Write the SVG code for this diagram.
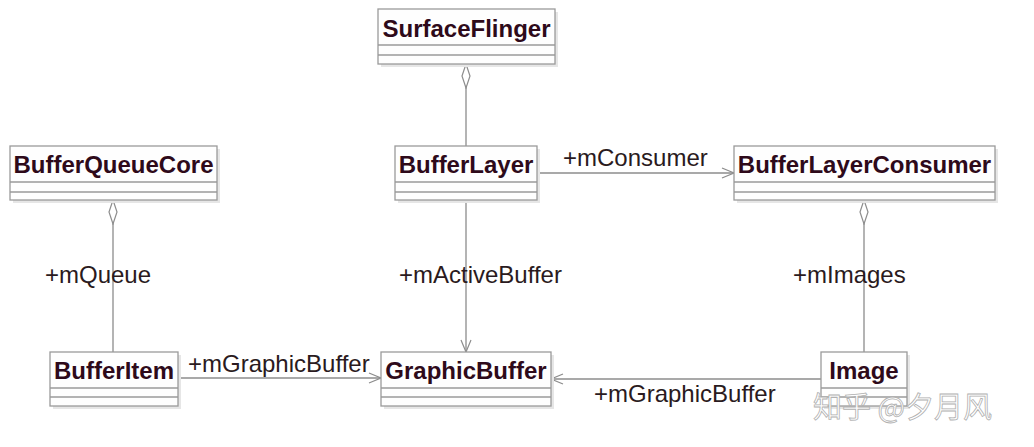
<svg xmlns="http://www.w3.org/2000/svg" width="1034" height="447" viewBox="0 0 1034 447">
<defs>
<style>
.box{fill:#fefefe;stroke:#9a9a9a;stroke-width:1.3}
.sh{fill:#e6e6e6}
.div{stroke:#9a9a9a;stroke-width:1.3}
.name{font-family:"Liberation Sans",Arial,sans-serif;font-weight:bold;font-size:24px;fill:#2e0a1a;text-anchor:middle}
.lbl{font-family:"Liberation Sans",Arial,sans-serif;font-size:24px;fill:#2a1a20}
.ln{stroke:#8c8c8c;stroke-width:1.3;fill:none}
.wm{font-family:"Noto Sans CJK SC",sans-serif;font-size:29px;fill:#ffffff;stroke:#b0b0b0;stroke-width:0.8}
</style>
<marker id="arr" viewBox="0 0 14 12" refX="13" refY="6" markerWidth="14" markerHeight="12" markerUnits="userSpaceOnUse" orient="auto">
<path d="M1,1 L13,6 L1,11" fill="none" stroke="#8c8c8c" stroke-width="1.2"/>
</marker>
<marker id="dia" viewBox="0 0 26 10" refX="1" refY="5" markerWidth="26" markerHeight="10" markerUnits="userSpaceOnUse" orient="auto">
<path d="M1,5 L13,1 L25,5 L13,9 Z" fill="#ffffff" stroke="#8c8c8c" stroke-width="1.2"/>
</marker>
</defs>
<rect width="1034" height="447" fill="#ffffff"/>

<g id="connectors">
<line class="ln" x1="466" y1="64" x2="466" y2="146" marker-start="url(#dia)"/>
<line class="ln" x1="113" y1="200" x2="113" y2="352" marker-start="url(#dia)"/>
<line class="ln" x1="864" y1="200" x2="864" y2="352" marker-start="url(#dia)"/>
<line class="ln" x1="537" y1="173" x2="734" y2="173" marker-end="url(#arr)"/>
<line class="ln" x1="466" y1="200" x2="466" y2="352" marker-end="url(#arr)"/>
<line class="ln" x1="178" y1="378" x2="381" y2="378" marker-end="url(#arr)"/>
<line class="ln" x1="821" y1="379" x2="551" y2="379" marker-end="url(#arr)"/>
<text class="lbl" x="563" y="166">+mConsumer</text>
<text class="lbl" x="399" y="283">+mActiveBuffer</text>
<text class="lbl" x="45" y="283">+mQueue</text>
<text class="lbl" x="793" y="283">+mImages</text>
<text class="lbl" x="188" y="372">+mGraphicBuffer</text>
<text class="lbl" x="594" y="402">+mGraphicBuffer</text>
</g>

<g id="SurfaceFlinger">
<rect class="sh" x="381" y="12" width="177" height="55"/>
<rect class="box" x="378" y="9" width="177" height="55"/>
<line class="div" x1="378" y1="45" x2="555" y2="45"/>
<line class="div" x1="378" y1="55" x2="555" y2="55"/>
<text class="name" x="466.5" y="37">SurfaceFlinger</text>
</g>

<g id="BufferQueueCore">
<rect class="sh" x="13" y="149" width="207" height="54"/>
<rect class="box" x="10" y="146" width="207" height="54"/>
<line class="div" x1="10" y1="182" x2="217" y2="182"/>
<line class="div" x1="10" y1="192" x2="217" y2="192"/>
<text class="name" x="113.5" y="173">BufferQueueCore</text>
</g>

<g id="BufferLayer">
<rect class="sh" x="398" y="149" width="142" height="54"/>
<rect class="box" x="395" y="146" width="142" height="54"/>
<line class="div" x1="395" y1="182" x2="537" y2="182"/>
<line class="div" x1="395" y1="192" x2="537" y2="192"/>
<text class="name" x="466" y="173">BufferLayer</text>
</g>

<g id="BufferLayerConsumer">
<rect class="sh" x="737" y="149" width="261" height="54"/>
<rect class="box" x="734" y="146" width="261" height="54"/>
<line class="div" x1="734" y1="182" x2="995" y2="182"/>
<line class="div" x1="734" y1="192" x2="995" y2="192"/>
<text class="name" x="864.5" y="173">BufferLayerConsumer</text>
</g>

<g id="BufferItem">
<rect class="sh" x="53" y="355" width="128" height="54"/>
<rect class="box" x="50" y="352" width="128" height="54"/>
<line class="div" x1="50" y1="388" x2="178" y2="388"/>
<line class="div" x1="50" y1="397" x2="178" y2="397"/>
<text class="name" x="114" y="379">BufferItem</text>
</g>

<g id="GraphicBuffer">
<rect class="sh" x="384" y="355" width="170" height="54"/>
<rect class="box" x="381" y="352" width="170" height="54"/>
<line class="div" x1="381" y1="388" x2="551" y2="388"/>
<line class="div" x1="381" y1="397" x2="551" y2="397"/>
<text class="name" x="466" y="379">GraphicBuffer</text>
</g>

<g id="Image">
<rect class="sh" x="824" y="355" width="86" height="54"/>
<rect class="box" x="821" y="352" width="86" height="54"/>
<line class="div" x1="821" y1="388" x2="907" y2="388"/>
<line class="div" x1="821" y1="397" x2="907" y2="397"/>
<text class="name" x="864" y="379">Image</text>
</g>

<text class="wm" x="813" y="418">知乎 @夕月风</text>
</svg>
